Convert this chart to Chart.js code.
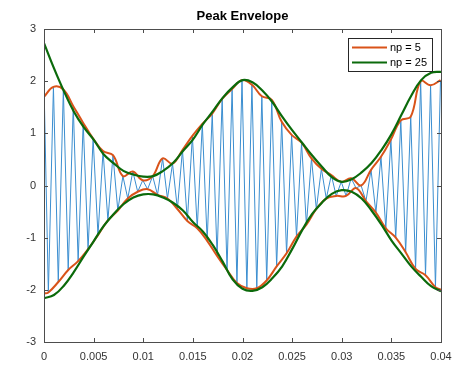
<!DOCTYPE html>
<html>
<head>
<meta charset="utf-8">
<script src="https://cdn.jsdelivr.net/npm/chart.js@4.4.1/dist/chart.umd.min.js"></script>
<style>
  html, body { margin: 0; padding: 0; background: #fff; }
  #wrap { width: 474px; height: 370px; }
</style>
</head>
<body>
<div id="wrap"><canvas id="env_chart" width="474" height="370"></canvas></div>
<script>
// signal samples: local maxima / minima of the blue trace
const signalStart = [0, 1.95];
const peakTimes = [0.00095, 0.00195, 0.00295, 0.00395, 0.00495, 0.00595, 0.00695, 0.00795, 0.00895, 0.00995,
  0.01095, 0.01195, 0.01295, 0.01395, 0.01495, 0.01595, 0.01695, 0.01795, 0.01895, 0.01995,
  0.02095, 0.02195, 0.02295, 0.02395, 0.02495, 0.02595, 0.02695, 0.02795, 0.02895, 0.02995,
  0.03095, 0.03195, 0.03295, 0.03395, 0.03495, 0.03595, 0.03695, 0.03795, 0.03895, 0.03995];
const peakVals = [1.89, 1.84, 1.52, 1.20, 0.90, 0.66, 0.58, 0.18, 0.27, 0.10,
  0.18, 0.52, 0.42, 0.68, 0.95, 1.18, 1.38, 1.66, 1.85, 2.02,
  1.93, 1.71, 1.64, 1.22, 0.97, 0.82, 0.52, 0.32, 0.20, 0.07,
  0.14, 0.00, 0.30, 0.55, 0.88, 1.25, 1.32, 2.00, 1.92, 2.02];
const troughTimes = [0.00044, 0.00144, 0.00244, 0.00344, 0.00444, 0.00544, 0.00644, 0.00744, 0.00844, 0.00944,
  0.01044, 0.01144, 0.01244, 0.01344, 0.01444, 0.01544, 0.01644, 0.01744, 0.01844, 0.01944,
  0.02044, 0.02144, 0.02244, 0.02344, 0.02444, 0.02544, 0.02644, 0.02744, 0.02844, 0.02944,
  0.03044, 0.03144, 0.03244, 0.03344, 0.03444, 0.03544, 0.03644, 0.03744, 0.03844, 0.03944];
const troughVals = [-2.05, -1.85, -1.62, -1.45, -1.22, -0.95, -0.67, -0.48, -0.25, -0.12,
  -0.07, -0.18, -0.25, -0.45, -0.68, -0.82, -1.06, -1.35, -1.62, -1.87,
  -1.97, -1.97, -1.82, -1.55, -1.30, -0.98, -0.75, -0.45, -0.25, -0.20,
  -0.20, -0.05, -0.30, -0.52, -0.82, -1.00, -1.28, -1.60, -1.72, -1.95];

// np = 5 envelope end values (spline ends at the axis edges)
const env5UpperEnds = [[0, 1.70]];
const env5LowerEnds = [[0, -2.07], [0.04, -2.00]];

// np = 25 envelope, read every 1 ms
const env25Times = [0, 0.001, 0.002, 0.003, 0.004, 0.005, 0.006, 0.007, 0.008, 0.009,
  0.010, 0.011, 0.012, 0.013, 0.014, 0.015, 0.016, 0.017, 0.018, 0.019,
  0.020, 0.021, 0.022, 0.023, 0.024, 0.025, 0.026, 0.027, 0.028, 0.029,
  0.030, 0.031, 0.032, 0.033, 0.034, 0.035, 0.036, 0.037, 0.038, 0.039, 0.040];
const env25Upper = [2.73, 2.25, 1.81, 1.42, 1.12, 0.88, 0.60, 0.43, 0.28, 0.21,
  0.17, 0.18, 0.28, 0.43, 0.66, 0.88, 1.17, 1.42, 1.68, 1.88,
  2.02, 1.98, 1.82, 1.60, 1.32, 1.06, 0.82, 0.58, 0.36, 0.16,
  0.07, 0.12, 0.25, 0.43, 0.68, 0.98, 1.35, 1.72, 2.02, 2.16, 2.18];
const env25Lower = [-2.16, -2.10, -1.92, -1.66, -1.36, -1.07, -0.78, -0.55, -0.36, -0.23,
  -0.17, -0.17, -0.23, -0.33, -0.48, -0.70, -0.88, -1.14, -1.46, -1.80,
  -1.98, -2.02, -1.95, -1.78, -1.55, -1.22, -0.86, -0.55, -0.33, -0.16,
  -0.09, -0.12, -0.25, -0.48, -0.75, -1.05, -1.30, -1.55, -1.75, -1.93, -2.03];

const xTicks = [0, 0.005, 0.01, 0.015, 0.02, 0.025, 0.03, 0.035, 0.04];
const yTicks = [-3, -2, -1, 0, 1, 2, 3];
const seriesNames = ['np = 5', 'np = 25'];

const colBlue = '#3b8ed0';
const colOrange = '#D95319';
const colGreen = '#0b6a0b';
const axisCol = '#4d4d4d';

// pair helpers
const toPts = (xs, ys) => xs.map((x, i) => ({ x, y: ys[i] }));

const bluePts = [{ x: signalStart[0], y: signalStart[1] }];
peakTimes.forEach((t, i) => {
  bluePts.push({ x: troughTimes[i], y: troughVals[i] });
  bluePts.push({ x: t, y: peakVals[i] });
});

const upper5 = env5UpperEnds.map(p => ({ x: p[0], y: p[1] })).concat(toPts(peakTimes, peakVals));
const lower5 = [{ x: env5LowerEnds[0][0], y: env5LowerEnds[0][1] }]
  .concat(toPts(troughTimes, troughVals))
  .concat([{ x: env5LowerEnds[1][0], y: env5LowerEnds[1][1] }]);

const lineSet = (data, color, width, order, tension) => ({
  data, borderColor: color, backgroundColor: color, borderWidth: width,
  pointRadius: 0, tension, order, fill: false
});

// MATLAB-ish box with inward ticks plus the legend inside the axes
const boxPlugin = {
  id: 'boxPlugin',
  afterDraw(chart) {
    const { ctx, chartArea: a, scales } = chart;
    ctx.save();
    ctx.strokeStyle = axisCol;
    ctx.lineWidth = 1;
    ctx.strokeRect(a.left + 0.5, a.top + 0.5, a.right - a.left, a.bottom - a.top);
    ctx.beginPath();
    xTicks.forEach(v => {
      const px = Math.round(scales.x.getPixelForValue(v)) + 0.5;
      ctx.moveTo(px, a.bottom); ctx.lineTo(px, a.bottom - 4);
      ctx.moveTo(px, a.top); ctx.lineTo(px, a.top + 4);
    });
    yTicks.forEach(v => {
      const py = Math.round(scales.y.getPixelForValue(v)) + 0.5;
      ctx.moveTo(a.left, py); ctx.lineTo(a.left + 4, py);
      ctx.moveTo(a.right, py); ctx.lineTo(a.right - 4, py);
    });
    ctx.stroke();

    // legend
    const lx = a.right - 93, ly = a.top + 9, lw = 84, lh = 33;
    ctx.fillStyle = '#fff';
    ctx.fillRect(lx, ly, lw, lh);
    ctx.strokeStyle = '#262626';
    ctx.strokeRect(lx + 0.5, ly + 0.5, lw, lh);
    const cols = [colOrange, colGreen];
    ctx.font = '11px "Liberation Sans", Arial, sans-serif';
    ctx.textBaseline = 'middle';
    seriesNames.forEach((name, i) => {
      const yy = ly + 9.5 + i * 15;
      ctx.strokeStyle = cols[i];
      ctx.lineWidth = 2;
      ctx.beginPath();
      ctx.moveTo(lx + 4, yy); ctx.lineTo(lx + 39, yy);
      ctx.stroke();
      ctx.fillStyle = '#000';
      ctx.fillText(name, lx + 42, yy);
    });
    ctx.restore();
  }
};

const tickFont = { family: '"Liberation Sans", Arial, sans-serif', size: 11 };

new Chart(document.getElementById('env_chart').getContext('2d'), {
  type: 'line',
  data: {
    datasets: [
      lineSet(toPts(env25Times, env25Upper), colGreen, 2.2, 0, 0.4),
      lineSet(toPts(env25Times, env25Lower), colGreen, 2.2, 0, 0.4),
      lineSet(upper5, colOrange, 2, 1, 0.4),
      lineSet(lower5, colOrange, 2, 1, 0.4),
      lineSet(bluePts, colBlue, 1, 2, 0)
    ]
  },
  options: {
    responsive: false,
    animation: false,
    events: [],
    layout: { padding: { left: 0, right: 33, top: 0, bottom: 0 } },
    scales: {
      x: {
        type: 'linear', min: 0, max: 0.04,
        afterBuildTicks: s => { s.ticks = xTicks.map(v => ({ value: v })); },
        afterFit: s => { s.height = 28; },
        ticks: {
          color: '#333', font: tickFont, padding: 8, maxRotation: 0, autoSkip: false,
          callback: v => String(+v.toFixed(4))
        },
        grid: { display: false, drawTicks: false },
        border: { display: false }
      },
      y: {
        type: 'linear', min: -3, max: 3,
        afterBuildTicks: s => { s.ticks = yTicks.map(v => ({ value: v })); },
        afterFit: s => { s.width = 44; },
        ticks: { color: '#333', font: tickFont, padding: 8 },
        grid: { display: false, drawTicks: false },
        border: { display: false }
      }
    },
    plugins: {
      legend: { display: false },
      tooltip: { enabled: false },
      title: {
        display: true,
        fullSize: false,
        text: 'Peak Envelope',
        color: '#000',
        font: { family: '"Liberation Sans", Arial, sans-serif', size: 13, weight: 'bold', lineHeight: 1.2 },
        padding: { top: 9, bottom: 4.4 }
      }
    }
  },
  plugins: [boxPlugin]
});
</script>
</body>
</html>
